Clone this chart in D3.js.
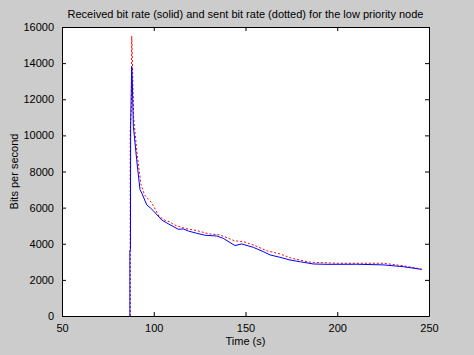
<!DOCTYPE html>
<html><head><meta charset="utf-8">
<script src="https://cdn.jsdelivr.net/npm/d3@7"></script>
<style>
html,body{margin:0;padding:0;background:#cccccc;}
svg{display:block;}
text{font-family:"Liberation Sans",Arial,sans-serif;fill:#000;}
</style></head>
<body>
<svg id="c" width="474" height="355"></svg>
<script>
const title = "Received bit rate (solid) and sent bit rate (dotted) for the low priority node";
const xLabel = "Time (s)";
const yLabel = "Bits per second";
const xTicks = [50, 100, 150, 200, 250];
const yTicks = [0, 2000, 4000, 6000, 8000, 10000, 12000, 14000, 16000];

// Received (solid)
const recvTime = [87.0, 87.0, 87.3, 87.4, 88.0, 88.3, 88.9, 90.7, 92.5, 93.5, 96.2, 98, 100, 104.3, 108, 113.4, 116.1, 119, 123.4, 128, 134.3, 137.9, 141, 144.3, 147.9, 154.3, 160, 163.4, 168.8, 174.3, 180, 187, 195, 210.6, 225, 236, 246];
const recvRate = [0, 3600, 3700, 10500, 13800, 13000, 10500, 8650, 7000, 6800, 6150, 6000, 5800, 5320, 5100, 4800, 4820, 4700, 4580, 4470, 4430, 4300, 4100, 3900, 3990, 3800, 3550, 3380, 3250, 3100, 3000, 2880, 2860, 2865, 2830, 2730, 2580];

// Sent (dotted)
const sentTime = [87.2, 87.2, 87.8, 88.0, 88.4, 89, 91, 93, 95, 99, 103, 106.5, 108.5, 111, 117, 123.4, 130, 136, 142, 144, 149, 155, 162, 168.8, 175, 185, 200, 225, 236, 246];
const sentRate = [0, 10300, 11600, 15500, 14000, 11000, 8900, 7300, 6700, 6250, 5500, 5280, 5230, 5050, 4850, 4730, 4550, 4490, 4250, 4160, 4120, 3900, 3600, 3440, 3200, 2980, 2920, 2920, 2780, 2600];

const svg = d3.select("#c");
const L = 62, R = 429, T = 27, B = 316;
const x = d3.scaleLinear().domain([50, 250]).range([L, R]);
const y = d3.scaleLinear().domain([0, 16000]).range([B, T]);

svg.append("rect").attr("x", L).attr("y", T).attr("width", R - L).attr("height", B - T).attr("fill", "#fff");

const line = d3.line().x(d => x(d[0])).y(d => y(d[1]));
const recv = recvTime.map((t, i) => [t, recvRate[i]]);
const sent = sentTime.map((t, i) => [t, sentRate[i]]);

svg.append("path").datum(sent).attr("d", line).attr("fill", "none")
  .attr("stroke", "#ff0000").attr("stroke-width", 1).attr("stroke-dasharray", "2,2");
svg.append("path").datum(recv).attr("d", line).attr("fill", "none")
  .attr("stroke", "#0000ff").attr("stroke-width", 1);

const tl = 4;
const fmt = d3.format("d");
// axes: bottom, left with inner ticks
svg.append("g").attr("transform", `translate(0,${B})`)
  .call(d3.axisBottom(x).tickValues(xTicks).tickSizeInner(-tl).tickSizeOuter(0).tickPadding(8).tickFormat(fmt));
svg.append("g").attr("transform", `translate(${L},0)`)
  .call(d3.axisLeft(y).tickValues(yTicks).tickSizeInner(-tl).tickSizeOuter(0).tickPadding(8).tickFormat(fmt));
svg.append("g").attr("transform", `translate(0,${T})`)
  .call(d3.axisTop(x).tickValues(xTicks).tickSizeInner(-tl).tickSizeOuter(0).tickFormat(""));
svg.append("g").attr("transform", `translate(${R},0)`)
  .call(d3.axisRight(y).tickValues(yTicks).tickSizeInner(-tl).tickSizeOuter(0).tickFormat(""));
svg.selectAll(".domain").attr("stroke", "#000");
svg.selectAll(".tick line").attr("stroke", "#000");
svg.selectAll(".tick text").style("font-size", "11px").style("font-family", "'Liberation Sans',Arial,sans-serif").attr("fill", "#000");

svg.append("text").attr("x", (L + R) / 2).attr("y", 18).attr("text-anchor", "middle")
  .style("font-size", "11px").text(title);
svg.append("text").attr("x", (L + R) / 2).attr("y", 345).attr("text-anchor", "middle")
  .style("font-size", "11px").text(xLabel);
svg.append("text").attr("transform", `translate(18,${(T + B) / 2}) rotate(-90)`).attr("text-anchor", "middle")
  .style("font-size", "11px").text(yLabel);
</script>
</body></html>
